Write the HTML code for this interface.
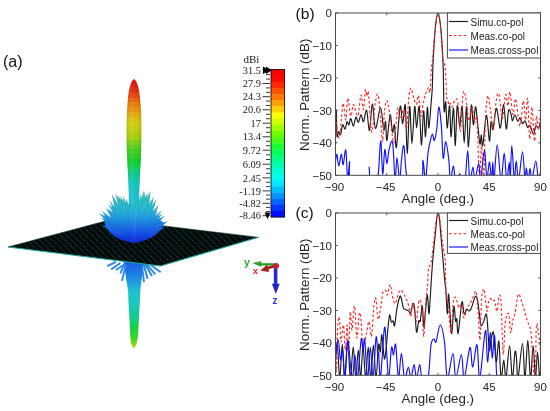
<!DOCTYPE html><html><head><meta charset="utf-8"><style>html,body{margin:0;padding:0;background:#fff;width:550px;height:411px;overflow:hidden}svg{display:block;filter:blur(0.3px)}</style></head><body>
<svg width="550" height="411" viewBox="0 0 550 411">
<rect width="550" height="411" fill="#fff"/>
<defs>
<linearGradient id="gBeam" x1="0" y1="79.0" x2="0" y2="222.0" gradientUnits="userSpaceOnUse"><stop offset="0.0000" stop-color="#da1510"/><stop offset="0.0329" stop-color="#da1510"/><stop offset="0.0329" stop-color="#dd1f10"/><stop offset="0.0657" stop-color="#dd1f10"/><stop offset="0.0657" stop-color="#e12c10"/><stop offset="0.0986" stop-color="#e12c10"/><stop offset="0.0986" stop-color="#e64710"/><stop offset="0.1315" stop-color="#e64710"/><stop offset="0.1315" stop-color="#e86410"/><stop offset="0.1643" stop-color="#e86410"/><stop offset="0.1643" stop-color="#e87f10"/><stop offset="0.1972" stop-color="#e87f10"/><stop offset="0.1972" stop-color="#e89510"/><stop offset="0.2301" stop-color="#e89510"/><stop offset="0.2301" stop-color="#e4ab10"/><stop offset="0.2629" stop-color="#e4ab10"/><stop offset="0.2629" stop-color="#ddc110"/><stop offset="0.2958" stop-color="#ddc110"/><stop offset="0.2958" stop-color="#d3d010"/><stop offset="0.3287" stop-color="#d3d010"/><stop offset="0.3287" stop-color="#c5d010"/><stop offset="0.3615" stop-color="#c5d010"/><stop offset="0.3615" stop-color="#b6d010"/><stop offset="0.3944" stop-color="#b6d010"/><stop offset="0.3944" stop-color="#a2d011"/><stop offset="0.4273" stop-color="#a2d011"/><stop offset="0.4273" stop-color="#7cd01a"/><stop offset="0.4601" stop-color="#7cd01a"/><stop offset="0.4601" stop-color="#5ad020"/><stop offset="0.4930" stop-color="#5ad020"/><stop offset="0.4930" stop-color="#41d020"/><stop offset="0.5259" stop-color="#41d020"/><stop offset="0.5259" stop-color="#29d024"/><stop offset="0.5587" stop-color="#29d024"/><stop offset="0.5587" stop-color="#13d02e"/><stop offset="0.5916" stop-color="#13d02e"/><stop offset="0.5916" stop-color="#10d050"/><stop offset="0.6245" stop-color="#10d050"/><stop offset="0.6245" stop-color="#10cf74"/><stop offset="0.6573" stop-color="#10cf74"/><stop offset="0.6573" stop-color="#10ca95"/><stop offset="0.6902" stop-color="#10ca95"/><stop offset="0.6902" stop-color="#10c8ac"/><stop offset="0.7231" stop-color="#10c8ac"/><stop offset="0.7231" stop-color="#10c8bf"/><stop offset="0.7559" stop-color="#10c8bf"/><stop offset="0.7559" stop-color="#19c4c9"/><stop offset="0.7888" stop-color="#19c4c9"/><stop offset="0.7888" stop-color="#20c0d0"/><stop offset="0.8217" stop-color="#20c0d0"/><stop offset="0.8217" stop-color="#20c0d0"/><stop offset="0.8545" stop-color="#20c0d0"/><stop offset="0.8545" stop-color="#20c0d0"/><stop offset="0.8874" stop-color="#20c0d0"/><stop offset="0.8874" stop-color="#20c0d0"/><stop offset="0.9203" stop-color="#20c0d0"/><stop offset="0.9203" stop-color="#20c0d0"/><stop offset="0.9531" stop-color="#20c0d0"/><stop offset="0.9531" stop-color="#20c0d0"/><stop offset="0.9860" stop-color="#20c0d0"/><stop offset="0.9860" stop-color="#20c0d0"/><stop offset="1.0000" stop-color="#20c0d0"/></linearGradient>
<linearGradient id="gShade" x1="0" y1="0" x2="1" y2="0">
<stop offset="0" stop-color="#000" stop-opacity="0.10"/><stop offset="0.35" stop-color="#fff" stop-opacity="0.06"/>
<stop offset="0.7" stop-color="#000" stop-opacity="0"/><stop offset="1" stop-color="#000" stop-opacity="0.12"/>
</linearGradient>
<linearGradient id="gSp" x1="0" y1="188" x2="0" y2="243" gradientUnits="userSpaceOnUse">
<stop offset="0" stop-color="#2cc4b4"/><stop offset="0.2" stop-color="#2cc4c0"/><stop offset="0.35" stop-color="#2abcd0"/>
<stop offset="0.47" stop-color="#26a8dc"/><stop offset="0.58" stop-color="#2090e0"/><stop offset="0.7" stop-color="#1a70e2"/>
<stop offset="0.82" stop-color="#1650e4"/><stop offset="0.92" stop-color="#1238e0"/><stop offset="1" stop-color="#1028d8"/>
</linearGradient>
<linearGradient id="gLow" x1="0" y1="262" x2="0" y2="349" gradientUnits="userSpaceOnUse">
<stop offset="0" stop-color="#1a5ce2"/><stop offset="0.16" stop-color="#2084e2"/><stop offset="0.25" stop-color="#20a2e0"/><stop offset="0.34" stop-color="#1ec2cc"/>
<stop offset="0.5" stop-color="#18c8b8"/><stop offset="0.62" stop-color="#14cc90"/><stop offset="0.75" stop-color="#18d048"/><stop offset="0.88" stop-color="#40d420"/>
<stop offset="1" stop-color="#b0e010"/>
</linearGradient>
<linearGradient id="gLsp" x1="0" y1="262" x2="0" y2="285" gradientUnits="userSpaceOnUse">
<stop offset="0" stop-color="#2a7ee6"/><stop offset="1" stop-color="#38aae8"/>
</linearGradient>
<pattern id="hatch" width="4.5" height="4.5" patternUnits="userSpaceOnUse" patternTransform="rotate(45)">
<rect width="4.5" height="4.5" fill="#030707"/><path d="M0,2.25H4.5" stroke="#115048" stroke-width="0.9" stroke-dasharray="1.2 0.75"/><path d="M2.25,0V4.5" stroke="#061a18" stroke-width="0.5"/>
</pattern>
</defs>
<path d="M123.5,261 L143.8,261 L143,270 L141.6,280 L141,284 L140.2,292 L139.9,300 L138.8,320 L138.1,335 L136.8,343 L135,347 L133.8,348.5 L132.6,347 L131,343 L130.2,335 L129.5,320 L128.4,300 L128.2,292 L127,284 L126.2,280 L125,270 Z" fill="url(#gLow)"/>
<path d="M116.0,261.8L107.3,266.2" stroke="#2686e6" stroke-width="1.9"/>
<path d="M120.4,262.9L111.1,269.5" stroke="#2686e6" stroke-width="1.9"/>
<path d="M124.5,263.5L120.4,273.3" stroke="#2686e6" stroke-width="1.9"/>
<path d="M126.0,264.0L122.0,280.9" stroke="#2686e6" stroke-width="1.9"/>
<path d="M148.7,263.5L160.7,272.2" stroke="#2686e6" stroke-width="1.9"/>
<path d="M146.5,264.0L155.3,274.4" stroke="#2686e6" stroke-width="1.9"/>
<path d="M143.5,264.0L147.6,278.7" stroke="#2686e6" stroke-width="1.9"/>
<path d="M125.0,264.0L116.0,270.0" stroke="#2686e6" stroke-width="1.9"/>
<path d="M145.0,264.0L152.0,276.0" stroke="#2686e6" stroke-width="1.9"/>
<path d="M142.0,266.0L144.0,282.0" stroke="#2686e6" stroke-width="1.9"/>
<path d="M8,247 L111,219.6 L258.4,237.3 L160.5,266 Z" fill="url(#hatch)"/>
<path d="M8,247 L160.5,266 L258.4,237.3" fill="none" stroke="#1aa8a0" stroke-width="1.1"/>
<path d="M8,247 L111,219.6 L258.4,237.3" fill="none" stroke="#0a3432" stroke-width="0.6"/>
<path d="M134,79 L132.4,80.5 L131.5,82.0 L130.7,84.0 L129.9,86.5 L129.2,89.6 L128.3,95.0 L127.8,100.0 L127.5,104.0 L127.0,111.0 L126.7,119.0 L126.5,133.0 L126.7,146.0 L127.3,162.0 L128.1,177.0 L128.8,193.0 L128.8,222.0 L139.2,222.0 L139.2,193.0 L139.9,177.0 L140.7,162.0 L141.3,146.0 L141.4,133.0 L141.3,119.0 L141.0,111.0 L140.6,104.0 L140.2,100.0 L139.7,95.0 L138.8,89.6 L138.1,86.5 L137.3,84.0 L136.5,82.0 L135.6,80.5 Z" fill="url(#gBeam)"/>
<path d="M134,79 L132.4,80.5 L131.5,82.0 L130.7,84.0 L129.9,86.5 L129.2,89.6 L128.3,95.0 L127.8,100.0 L127.5,104.0 L127.0,111.0 L126.7,119.0 L126.5,133.0 L126.7,146.0 L127.3,162.0 L128.1,177.0 L128.8,193.0 L128.8,222.0 L139.2,222.0 L139.2,193.0 L139.9,177.0 L140.7,162.0 L141.3,146.0 L141.4,133.0 L141.3,119.0 L141.0,111.0 L140.6,104.0 L140.2,100.0 L139.7,95.0 L138.8,89.6 L138.1,86.5 L137.3,84.0 L136.5,82.0 L135.6,80.5 Z" fill="url(#gShade)"/>
<path d="M104.5,223 C107,232 116,240.5 134,243 C152,240.5 161,232 164,223 C156,216 146,212 134,212 C122,212 112,216 104.5,223 Z" fill="url(#gSp)"/>
<path d="M130.1,233.6 L112.6,220.2 L99.4,213.2 L108.9,224.8 L125.4,239.3 Z" fill="url(#gSp)" stroke="#0a4a90" stroke-opacity="0.22" stroke-width="0.5"/>
<path d="M128.7,235.3 L111.5,221.6 L99.4,213.2 L110.0,223.4 L126.8,237.6 Z" fill="#ffffff" fill-opacity="0.05"/>
<path d="M131.0,234.6 L113.9,223.6 L101.3,218.0 L111.1,227.7 L127.6,239.6 Z" fill="url(#gSp)" stroke="#0a4a90" stroke-opacity="0.22" stroke-width="0.5"/>
<path d="M128.7,235.2 L113.8,220.0 L102.3,211.3 L110.2,223.4 L124.2,239.4 Z" fill="url(#gSp)" stroke="#0a4a90" stroke-opacity="0.22" stroke-width="0.5"/>
<path d="M127.4,236.5 L112.7,221.0 L102.3,211.3 L111.2,222.4 L125.6,238.1 Z" fill="#ffffff" fill-opacity="0.05"/>
<path d="M130.7,235.8 L115.4,226.8 L104.0,222.5 L112.7,231.0 L127.4,241.1 Z" fill="url(#gSp)" stroke="#0a4a90" stroke-opacity="0.22" stroke-width="0.5"/>
<path d="M129.7,237.4 L114.6,228.0 L104.0,222.5 L113.5,229.7 L128.4,239.5 Z" fill="#ffffff" fill-opacity="0.05"/>
<path d="M133.4,236.6 L118.2,218.8 L106.2,208.4 L113.7,222.4 L127.8,241.1 Z" fill="url(#gSp)" stroke="#0a4a90" stroke-opacity="0.22" stroke-width="0.5"/>
<path d="M131.7,237.9 L116.9,219.9 L106.2,208.4 L115.1,221.3 L129.5,239.7 Z" fill="#ffffff" fill-opacity="0.05"/>
<path d="M136.1,233.8 L120.8,215.3 L108.5,204.5 L115.9,219.0 L130.0,238.5 Z" fill="url(#gSp)" stroke="#0a4a90" stroke-opacity="0.22" stroke-width="0.5"/>
<path d="M134.3,235.2 L119.3,216.4 L108.5,204.5 L117.3,217.9 L131.8,237.1 Z" fill="#ffffff" fill-opacity="0.05"/>
<path d="M131.2,234.8 L119.7,213.9 L110.0,201.0 L115.0,216.4 L125.3,237.9 Z" fill="url(#gSp)" stroke="#0a4a90" stroke-opacity="0.22" stroke-width="0.5"/>
<path d="M132.2,236.4 L121.4,210.9 L112.0,194.7 L116.0,213.0 L125.4,239.1 Z" fill="url(#gSp)" stroke="#0a4a90" stroke-opacity="0.22" stroke-width="0.5"/>
<path d="M130.1,237.2 L119.8,211.5 L112.0,194.7 L117.6,212.3 L127.4,238.3 Z" fill="#ffffff" fill-opacity="0.05"/>
<path d="M134.4,235.1 L124.1,209.9 L115.4,193.8 L119.6,211.6 L128.6,237.3 Z" fill="url(#gSp)" stroke="#0a4a90" stroke-opacity="0.22" stroke-width="0.5"/>
<path d="M132.6,235.8 L122.8,210.4 L115.4,193.8 L120.9,211.1 L130.4,236.6 Z" fill="#ffffff" fill-opacity="0.05"/>
<path d="M135.8,236.1 L126.3,213.4 L118.0,199.0 L121.4,215.3 L129.6,238.5 Z" fill="url(#gSp)" stroke="#0a4a90" stroke-opacity="0.22" stroke-width="0.5"/>
<path d="M135.4,235.9 L127.9,211.8 L120.5,196.5 L122.1,213.5 L128.0,237.9 Z" fill="url(#gSp)" stroke="#0a4a90" stroke-opacity="0.22" stroke-width="0.5"/>
<path d="M134.3,237.1 L129.0,212.3 L123.2,196.2 L123.5,213.3 L127.4,238.4 Z" fill="url(#gSp)" stroke="#0a4a90" stroke-opacity="0.22" stroke-width="0.5"/>
<path d="M138.1,236.0 L132.4,213.5 L126.0,199.0 L126.2,214.8 L130.3,237.7 Z" fill="url(#gSp)" stroke="#0a4a90" stroke-opacity="0.22" stroke-width="0.5"/>
<path d="M135.7,236.5 L130.5,213.9 L126.0,199.0 L128.0,214.4 L132.6,237.2 Z" fill="#ffffff" fill-opacity="0.05"/>
<path d="M138.1,238.9 L142.9,210.0 L144.1,190.4 L138.0,209.1 L131.9,237.7 Z" fill="url(#gSp)" stroke="#0a4a90" stroke-opacity="0.22" stroke-width="0.5"/>
<path d="M136.3,238.5 L141.5,209.7 L144.1,190.4 L139.5,209.4 L133.8,238.0 Z" fill="#ffffff" fill-opacity="0.05"/>
<path d="M136.7,239.1 L144.0,213.1 L146.5,195.0 L138.3,211.3 L129.5,236.9 Z" fill="url(#gSp)" stroke="#0a4a90" stroke-opacity="0.22" stroke-width="0.5"/>
<path d="M142.3,237.9 L148.6,210.3 L150.4,191.3 L142.9,208.8 L135.1,236.0 Z" fill="url(#gSp)" stroke="#0a4a90" stroke-opacity="0.22" stroke-width="0.5"/>
<path d="M141.0,238.8 L149.8,214.4 L153.4,197.2 L144.1,212.1 L133.8,235.9 Z" fill="url(#gSp)" stroke="#0a4a90" stroke-opacity="0.22" stroke-width="0.5"/>
<path d="M139.9,239.4 L150.8,216.0 L156.3,199.6 L146.5,213.9 L134.4,236.6 Z" fill="url(#gSp)" stroke="#0a4a90" stroke-opacity="0.22" stroke-width="0.5"/>
<path d="M141.9,240.9 L153.2,220.1 L158.5,205.0 L147.9,217.0 L135.3,237.0 Z" fill="url(#gSp)" stroke="#0a4a90" stroke-opacity="0.22" stroke-width="0.5"/>
<path d="M139.9,239.8 L151.6,219.2 L158.5,205.0 L149.5,218.0 L137.2,238.2 Z" fill="#ffffff" fill-opacity="0.05"/>
<path d="M139.7,240.0 L153.8,223.3 L161.6,210.8 L150.1,220.1 L135.2,236.0 Z" fill="url(#gSp)" stroke="#0a4a90" stroke-opacity="0.22" stroke-width="0.5"/>
<path d="M138.4,238.8 L152.7,222.3 L161.6,210.8 L151.2,221.0 L136.6,237.2 Z" fill="#ffffff" fill-opacity="0.05"/>
<path d="M138.4,238.8 L154.8,226.2 L164.5,216.1 L151.9,222.2 L134.8,233.9 Z" fill="url(#gSp)" stroke="#0a4a90" stroke-opacity="0.22" stroke-width="0.5"/>
<path d="M138.3,239.8 L156.4,230.0 L167.5,221.5 L154.0,225.2 L135.3,233.7 Z" fill="url(#gSp)" stroke="#0a4a90" stroke-opacity="0.22" stroke-width="0.5"/>
<path d="M137.4,240.7 L154.7,233.8 L165.5,227.0 L152.8,228.5 L135.0,234.0 Z" fill="url(#gSp)" stroke="#0a4a90" stroke-opacity="0.22" stroke-width="0.5"/>
<path d="M132.5,235.6 L114.8,228.1 L102.0,225.0 L112.5,232.8 L129.7,241.6 Z" fill="url(#gSp)" stroke="#0a4a90" stroke-opacity="0.22" stroke-width="0.5"/>
<path d="M131.7,237.4 L114.1,229.5 L102.0,225.0 L113.2,231.4 L130.6,239.8 Z" fill="#ffffff" fill-opacity="0.05"/>
<path d="M133.3,236.8 L121.9,217.5 L112.0,206.0 L116.4,220.6 L126.4,240.6 Z" fill="url(#gSp)" stroke="#0a4a90" stroke-opacity="0.22" stroke-width="0.5"/>
<path d="M131.2,237.9 L120.3,218.5 L112.0,206.0 L118.0,219.7 L128.5,239.4 Z" fill="#ffffff" fill-opacity="0.05"/>
<path d="M132.4,235.5 L123.7,215.5 L116.0,203.0 L118.9,217.4 L126.4,237.9 Z" fill="url(#gSp)" stroke="#0a4a90" stroke-opacity="0.22" stroke-width="0.5"/>
<path d="M130.6,236.2 L122.3,216.1 L116.0,203.0 L120.4,216.9 L128.2,237.2 Z" fill="#ffffff" fill-opacity="0.05"/>
<path d="M135.4,235.8 L127.9,215.7 L121.0,203.0 L123.4,217.3 L129.7,237.8 Z" fill="url(#gSp)" stroke="#0a4a90" stroke-opacity="0.22" stroke-width="0.5"/>
<path d="M133.7,236.4 L126.5,216.2 L121.0,203.0 L124.7,216.8 L131.4,237.2 Z" fill="#ffffff" fill-opacity="0.05"/>
<path d="M138.9,238.9 L145.3,216.0 L147.0,200.0 L139.2,214.1 L131.4,236.5 Z" fill="url(#gSp)" stroke="#0a4a90" stroke-opacity="0.22" stroke-width="0.5"/>
<path d="M140.1,239.4 L148.6,218.7 L152.0,204.0 L143.2,216.3 L133.4,236.3 Z" fill="url(#gSp)" stroke="#0a4a90" stroke-opacity="0.22" stroke-width="0.5"/>
<path d="M138.1,238.5 L147.0,218.0 L152.0,204.0 L144.8,217.1 L135.5,237.3 Z" fill="#ffffff" fill-opacity="0.05"/>
<path d="M143.1,240.4 L152.8,223.6 L157.0,211.0 L147.5,220.3 L136.6,236.3 Z" fill="url(#gSp)" stroke="#0a4a90" stroke-opacity="0.22" stroke-width="0.5"/>
<path d="M132.2,235.3 L119.9,220.5 L110.0,212.0 L115.9,223.6 L127.3,239.1 Z" fill="url(#gSp)" stroke="#0a4a90" stroke-opacity="0.22" stroke-width="0.5"/>
<path d="M137.1,238.8 L151.6,228.0 L160.0,219.0 L148.6,223.8 L133.4,233.6 Z" fill="url(#gSp)" stroke="#0a4a90" stroke-opacity="0.22" stroke-width="0.5"/>
<path d="M136.0,237.3 L150.7,226.7 L160.0,219.0 L149.5,225.0 L134.5,235.1 Z" fill="#ffffff" fill-opacity="0.05"/>
<path d="M130.8,233.9 L116.7,222.3 L106.0,216.0 L113.5,225.9 L126.9,238.4 Z" fill="url(#gSp)" stroke="#0a4a90" stroke-opacity="0.22" stroke-width="0.5"/>
<path d="M129.6,235.3 L115.8,223.3 L106.0,216.0 L114.5,224.8 L128.0,237.1 Z" fill="#ffffff" fill-opacity="0.05"/>
<path d="M131.4,236.0 L122.1,213.4 L114.0,199.0 L117.6,215.1 L125.8,238.2 Z" fill="url(#gSp)" stroke="#0a4a90" stroke-opacity="0.22" stroke-width="0.5"/>
<path d="M135.4,235.4 L126.2,210.7 L118.0,195.0 L121.3,212.4 L129.2,237.5 Z" fill="url(#gSp)" stroke="#0a4a90" stroke-opacity="0.22" stroke-width="0.5"/>
<path d="M133.5,236.0 L124.7,211.2 L118.0,195.0 L122.7,211.9 L131.1,236.9 Z" fill="#ffffff" fill-opacity="0.05"/>
<path d="M135.6,235.6 L130.8,215.1 L125.0,202.0 L124.7,216.3 L128.1,237.1 Z" fill="url(#gSp)" stroke="#0a4a90" stroke-opacity="0.22" stroke-width="0.5"/>
<path d="M136.1,237.1 L133.1,217.7 L129.0,205.0 L128.2,218.3 L130.0,237.8 Z" fill="url(#gSp)" stroke="#0a4a90" stroke-opacity="0.22" stroke-width="0.5"/>
<path d="M134.3,237.3 L131.6,217.9 L129.0,205.0 L129.6,218.1 L131.8,237.6 Z" fill="#ffffff" fill-opacity="0.05"/>
<path d="M137.7,237.5 L140.6,217.7 L140.0,204.0 L134.6,216.6 L130.2,236.1 Z" fill="url(#gSp)" stroke="#0a4a90" stroke-opacity="0.22" stroke-width="0.5"/>
<path d="M135.5,237.1 L138.8,217.3 L140.0,204.0 L136.4,216.9 L132.4,236.5 Z" fill="#ffffff" fill-opacity="0.05"/>
<path d="M135.9,239.7 L141.5,215.0 L143.0,198.0 L136.1,213.6 L129.1,238.0 Z" fill="url(#gSp)" stroke="#0a4a90" stroke-opacity="0.22" stroke-width="0.5"/>
<path d="M133.9,239.2 L139.9,214.6 L143.0,198.0 L137.7,214.1 L131.1,238.5 Z" fill="#ffffff" fill-opacity="0.05"/>
<path d="M139.9,237.1 L146.7,212.9 L149.0,196.0 L141.3,211.2 L133.1,235.0 Z" fill="url(#gSp)" stroke="#0a4a90" stroke-opacity="0.22" stroke-width="0.5"/>
<path d="M142.3,239.4 L151.1,218.1 L155.0,203.0 L146.3,216.0 L136.4,236.8 Z" fill="url(#gSp)" stroke="#0a4a90" stroke-opacity="0.22" stroke-width="0.5"/>
<path d="M140.5,238.6 L149.7,217.5 L155.0,203.0 L147.8,216.6 L138.1,237.6 Z" fill="#ffffff" fill-opacity="0.05"/>
<path d="M138.6,240.9 L153.6,225.8 L162.0,214.0 L149.7,221.7 L133.8,235.7 Z" fill="url(#gSp)" stroke="#0a4a90" stroke-opacity="0.22" stroke-width="0.5"/>
<path d="M131.1,233.9 L115.9,220.8 L104.0,214.0 L111.7,225.3 L125.9,239.5 Z" fill="url(#gSp)" stroke="#0a4a90" stroke-opacity="0.22" stroke-width="0.5"/>
<path d="M135.2,236.0 L120.0,218.8 L108.0,209.0 L115.3,222.7 L129.3,240.8 Z" fill="url(#gSp)" stroke="#0a4a90" stroke-opacity="0.22" stroke-width="0.5"/>
<path d="M133.8,236.8 L128.0,213.8 L122.0,199.0 L122.8,215.0 L127.3,238.3 Z" fill="url(#gSp)" stroke="#0a4a90" stroke-opacity="0.22" stroke-width="0.5"/>
<path d="M131.9,237.3 L126.5,214.2 L122.0,199.0 L124.4,214.7 L129.3,237.8 Z" fill="#ffffff" fill-opacity="0.05"/>
<path d="M133.4,236.5 L130.8,215.7 L127.0,202.0 L125.7,216.2 L126.9,237.1 Z" fill="url(#gSp)" stroke="#0a4a90" stroke-opacity="0.22" stroke-width="0.5"/>
<path d="M141.7,237.6 L142.9,211.6 L141.0,194.0 L136.6,211.1 L133.9,237.1 Z" fill="url(#gSp)" stroke="#0a4a90" stroke-opacity="0.22" stroke-width="0.5"/>
<path d="M141.6,237.6 L144.9,210.4 L145.0,192.0 L139.8,209.7 L135.2,236.6 Z" fill="url(#gSp)" stroke="#0a4a90" stroke-opacity="0.22" stroke-width="0.5"/>
<path d="M139.7,237.3 L143.4,210.2 L145.0,192.0 L141.3,209.9 L137.1,236.9 Z" fill="#ffffff" fill-opacity="0.05"/>
<path d="M137.7,237.7 L145.3,211.3 L148.0,193.0 L139.7,209.6 L130.8,235.5 Z" fill="url(#gSp)" stroke="#0a4a90" stroke-opacity="0.22" stroke-width="0.5"/>
<path d="M142.3,238.7 L150.1,216.0 L153.0,200.0 L144.6,213.9 L135.5,236.2 Z" fill="url(#gSp)" stroke="#0a4a90" stroke-opacity="0.22" stroke-width="0.5"/>
<path d="M132.0,236.6 L122.1,212.3 L113.0,197.0 L116.2,214.5 L124.7,239.4 Z" fill="url(#gSp)" stroke="#0a4a90" stroke-opacity="0.22" stroke-width="0.5"/>
<path d="M135.9,236.3 L125.7,212.2 L117.0,197.0 L121.0,214.1 L130.0,238.6 Z" fill="url(#gSp)" stroke="#0a4a90" stroke-opacity="0.22" stroke-width="0.5"/>
<path d="M136.5,238.2 L134.8,217.0 L131.0,203.0 L128.4,217.3 L128.6,238.6 Z" fill="url(#gSp)" stroke="#0a4a90" stroke-opacity="0.22" stroke-width="0.5"/>
<path d="M134.1,238.3 L132.9,217.1 L131.0,203.0 L130.3,217.2 L131.0,238.5 Z" fill="#ffffff" fill-opacity="0.05"/>
<path d="M137.6,239.1 L138.7,215.8 L137.0,200.0 L132.8,215.3 L130.1,238.5 Z" fill="url(#gSp)" stroke="#0a4a90" stroke-opacity="0.22" stroke-width="0.5"/>
<path d="M135.3,239.0 L136.9,215.6 L137.0,200.0 L134.6,215.4 L132.4,238.7 Z" fill="#ffffff" fill-opacity="0.05"/>
<path d="M274.5,263.3 L261.5,263.3 L261,260.9 L252.5,263.1 L261,266.8 L261.5,265.5 L274.5,265.5 Z" fill="#22a022"/>
<path d="M274,263.3 L261.5,263.3 L261,260.9 L254,262.9 Z" fill="#60c860" fill-opacity="0.55"/>
<path d="M275.6,266.5 L275.6,284.5" stroke="#2a2ad0" stroke-width="3.6"/>
<path d="M271.9,283.8 L279.7,283.8 L275.8,294 Z" fill="#2222c8"/>
<path d="M275.5,265.8 L267.5,268" stroke="#a01c1c" stroke-width="2.8" stroke-linecap="round"/>
<path d="M266.8,265.3 L268.7,271.4 L261,270.4 Z" fill="#a41e1e" stroke="#a41e1e" stroke-width="0.8" stroke-linejoin="round"/>
<circle cx="276.1" cy="265.8" r="2.9" fill="#c42424"/>
<text font-family="Liberation Sans, Arial, sans-serif" font-size="10.5" font-weight="bold" fill="#2eaa2e" x="244" y="265.6">y</text>
<text font-family="Liberation Sans, Arial, sans-serif" font-size="9.5" font-weight="bold" fill="#f02020" x="252.8" y="274.2">x</text>
<text font-family="Liberation Sans, Arial, sans-serif" font-size="10" font-weight="bold" fill="#3030f0" x="272.5" y="303.6">z</text>
<text font-family="Liberation Sans, Arial, sans-serif" font-size="16" fill="#111" x="3" y="66.5">(a)</text>
<rect x="271.0" y="69.50" width="13.6" height="6.45" fill="#ff0000"/>
<rect x="271.0" y="75.65" width="13.6" height="6.45" fill="#ff0800"/>
<rect x="271.0" y="81.79" width="13.6" height="6.45" fill="#ff2800"/>
<rect x="271.0" y="87.94" width="13.6" height="6.45" fill="#ff5000"/>
<rect x="271.0" y="94.08" width="13.6" height="6.45" fill="#ff7800"/>
<rect x="271.0" y="100.23" width="13.6" height="6.45" fill="#ffa000"/>
<rect x="271.0" y="106.38" width="13.6" height="6.45" fill="#ffd000"/>
<rect x="271.0" y="112.52" width="13.6" height="6.45" fill="#f8ff00"/>
<rect x="271.0" y="118.67" width="13.6" height="6.45" fill="#d0ff00"/>
<rect x="271.0" y="124.81" width="13.6" height="6.45" fill="#a0ff00"/>
<rect x="271.0" y="130.96" width="13.6" height="6.45" fill="#70ff00"/>
<rect x="271.0" y="137.10" width="13.6" height="6.45" fill="#40ff10"/>
<rect x="271.0" y="143.25" width="13.6" height="6.45" fill="#18ff30"/>
<rect x="271.0" y="149.40" width="13.6" height="6.45" fill="#00ff58"/>
<rect x="271.0" y="155.54" width="13.6" height="6.45" fill="#00ff88"/>
<rect x="271.0" y="161.69" width="13.6" height="6.45" fill="#00ffb0"/>
<rect x="271.0" y="167.83" width="13.6" height="6.45" fill="#00ffd0"/>
<rect x="271.0" y="173.98" width="13.6" height="6.45" fill="#00fff0"/>
<rect x="271.0" y="180.12" width="13.6" height="6.45" fill="#00e8ff"/>
<rect x="271.0" y="186.27" width="13.6" height="6.45" fill="#00c0ff"/>
<rect x="271.0" y="192.42" width="13.6" height="6.45" fill="#0098ff"/>
<rect x="271.0" y="198.56" width="13.6" height="6.45" fill="#0068ff"/>
<rect x="271.0" y="204.71" width="13.6" height="6.45" fill="#0038ff"/>
<rect x="271.0" y="210.85" width="13.6" height="6.45" fill="#0010ff"/>
<rect x="271.0" y="69.5" width="13.6" height="147.5" fill="none" stroke="#111" stroke-width="0.9"/>
<g font-family="Liberation Serif, Times New Roman, serif" font-size="10.4" fill="#1a1a1a">
<text x="261" y="73.80" text-anchor="end">31.5</text>
<text x="261" y="87.10" text-anchor="end">27.9</text>
<text x="261" y="100.30" text-anchor="end">24.3</text>
<text x="261" y="113.40" text-anchor="end">20.6</text>
<text x="261" y="126.80" text-anchor="end">17</text>
<text x="261" y="140.40" text-anchor="end">13.4</text>
<text x="261" y="153.80" text-anchor="end">9.72</text>
<text x="261" y="167.80" text-anchor="end">6.09</text>
<text x="261" y="181.50" text-anchor="end">2.45</text>
<text x="261" y="194.50" text-anchor="end">-1.19</text>
<text x="261" y="206.90" text-anchor="end">-4.82</text>
<text x="261" y="219.30" text-anchor="end">-8.46</text>
</g>
<path d="M262.5,70.20H270M266,74.63H270M266,79.07H270M262.5,83.50H270M266,87.90H270M266,92.30H270M262.5,96.70H270M266,101.07H270M266,105.43H270M262.5,109.80H270M266,114.27H270M266,118.73H270M262.5,123.20H270M266,127.73H270M266,132.27H270M262.5,136.80H270M266,141.27H270M266,145.73H270M262.5,150.20H270M266,154.87H270M266,159.53H270M262.5,164.20H270M266,168.77H270M266,173.33H270M262.5,177.90H270M266,182.23H270M266,186.57H270M262.5,190.90H270M266,195.03H270M266,199.17H270M262.5,203.30H270M266,207.43H270M266,211.57H270M262.5,215.70H270" stroke="#222" stroke-width="0.9"/>
<text font-family="Liberation Serif, Times New Roman, serif" font-size="11" fill="#1a1a1a" x="243.5" y="62.6">dBi</text>
<path d="M263,66.5 L270,70.2 L263,73.9 Z M266,66.5 L272,70.2 L266,73.9Z" fill="#000"/>
<path d="M264.6,212.6 L270.4,212.6 L267.5,219.2 Z" fill="#000"/>
<clipPath id="clip1"><rect x="335.5" y="13.0" width="205.0" height="162.3"/></clipPath>
<g clip-path="url(#clip1)" fill="none" stroke-linejoin="round">
<path d="M335.50,118.00 C335.63,116.72 336.05,107.30 336.30,110.30 C336.55,113.30 336.58,132.45 337.00,136.00 C337.42,139.55 338.18,131.85 338.80,131.60 C339.42,131.35 340.07,135.63 340.70,134.50 C341.33,133.37 341.87,125.72 342.60,124.80 C343.33,123.88 344.37,129.52 345.10,129.00 C345.83,128.48 346.37,122.40 347.00,121.70 C347.63,121.00 348.27,125.33 348.90,124.80 C349.53,124.27 350.05,118.28 350.80,118.50 C351.55,118.72 352.55,126.32 353.40,126.10 C354.25,125.88 355.07,117.83 355.90,117.20 C356.73,116.57 357.55,122.72 358.40,122.30 C359.25,121.88 360.15,114.80 361.00,114.70 C361.85,114.60 362.57,122.43 363.50,121.70 C364.43,120.97 365.60,108.83 366.60,110.30 C367.60,111.77 368.55,131.55 369.50,130.50 C370.45,129.45 371.30,104.35 372.30,104.00 C373.30,103.65 374.12,127.78 375.50,128.40 C376.88,129.02 379.23,107.43 380.60,107.70 C381.97,107.97 382.87,127.67 383.70,130.00 C384.53,132.33 385.07,119.95 385.60,121.70 C386.13,123.45 386.15,141.67 386.90,140.50 C387.65,139.33 389.17,116.12 390.10,114.70 C391.03,113.28 391.77,130.28 392.50,132.00 C393.23,133.72 393.85,122.43 394.50,125.00 C395.15,127.57 395.45,150.48 396.40,147.40 C397.35,144.32 399.15,110.47 400.20,106.50 C401.25,102.53 401.85,123.82 402.70,123.60 C403.55,123.38 404.55,100.28 405.30,105.20 C406.05,110.12 406.47,152.88 407.20,153.10 C407.93,153.32 408.92,108.08 409.70,106.50 C410.48,104.92 411.07,143.60 411.90,143.60 C412.73,143.60 413.92,109.10 414.70,106.50 C415.48,103.90 415.85,128.00 416.60,128.00 C417.35,128.00 418.40,103.68 419.20,106.50 C420.00,109.32 420.67,144.17 421.40,144.90 C422.13,145.63 422.92,112.27 423.60,110.90 C424.28,109.53 424.87,137.33 425.50,136.70 C426.13,136.07 426.83,108.58 427.40,107.10 C427.97,105.62 428.27,128.65 428.90,127.80 C429.53,126.95 430.63,108.63 431.20,102.00 C431.77,95.37 432.03,93.60 432.30,88.00 C432.57,82.40 432.55,74.92 432.80,68.40 C433.05,61.88 433.40,55.38 433.80,48.90 C434.20,42.42 434.73,34.73 435.20,29.50 C435.67,24.27 436.13,20.25 436.60,17.50 C437.07,14.75 437.53,13.00 438.00,13.00 C438.47,13.00 438.92,14.75 439.40,17.50 C439.88,20.25 440.42,24.27 440.90,29.50 C441.38,34.73 441.92,42.42 442.30,48.90 C442.68,55.38 442.98,61.55 443.20,68.40 C443.42,75.25 443.50,83.90 443.60,90.00 C443.70,96.10 443.67,101.33 443.80,105.00 C443.93,108.67 444.07,112.50 444.40,112.00 C444.73,111.50 445.33,99.33 445.80,102.00 C446.27,104.67 446.57,127.37 447.20,128.00 C447.83,128.63 448.97,104.35 449.60,105.80 C450.23,107.25 450.35,136.27 451.00,136.70 C451.65,137.13 452.78,106.93 453.50,108.40 C454.22,109.87 454.68,145.93 455.30,145.50 C455.92,145.07 456.47,109.05 457.20,105.80 C457.93,102.55 458.87,125.88 459.70,126.00 C460.53,126.12 461.45,103.67 462.20,106.50 C462.95,109.33 463.47,143.00 464.20,143.00 C464.93,143.00 465.90,105.83 466.60,106.50 C467.30,107.17 467.62,147.20 468.40,147.00 C469.18,146.80 470.48,108.97 471.30,105.30 C472.12,101.63 472.60,124.75 473.30,125.00 C474.00,125.25 474.80,107.30 475.50,106.80 C476.20,106.30 476.77,115.80 477.50,122.00 C478.23,128.20 479.27,141.83 479.90,144.00 C480.53,146.17 480.82,134.75 481.30,135.00 C481.78,135.25 481.95,148.75 482.80,145.50 C483.65,142.25 485.30,116.25 486.40,115.50 C487.50,114.75 488.67,139.65 489.40,141.00 C490.13,142.35 490.42,126.77 490.80,123.60 C491.18,120.43 491.33,121.03 491.70,122.00 C492.07,122.97 492.28,131.57 493.00,129.40 C493.72,127.23 495.18,111.45 496.00,109.00 C496.82,106.55 497.17,111.53 497.90,114.70 C498.63,117.87 499.45,129.68 500.40,128.00 C501.35,126.32 502.62,104.43 503.60,104.60 C504.58,104.77 505.47,128.05 506.30,129.00 C507.13,129.95 507.78,112.68 508.60,110.30 C509.42,107.92 510.57,112.92 511.20,114.70 C511.83,116.48 511.77,121.00 512.40,121.00 C513.03,121.00 514.15,114.70 515.00,114.70 C515.85,114.70 516.67,120.47 517.50,121.00 C518.33,121.53 519.17,117.47 520.00,117.90 C520.83,118.33 521.65,123.08 522.50,123.60 C523.35,124.12 524.25,120.37 525.10,121.00 C525.95,121.63 526.77,126.65 527.60,127.40 C528.43,128.15 529.15,124.38 530.10,125.50 C531.05,126.62 532.35,134.00 533.30,134.10 C534.25,134.20 534.95,127.12 535.80,126.10 C536.65,125.08 537.62,128.42 538.40,128.00 C539.18,127.58 540.15,124.33 540.50,123.60" stroke="#1a1a1a" stroke-width="1.15"/>
<path d="M335.50,112.00 C335.72,114.33 336.15,121.67 336.80,126.00 C337.45,130.33 338.62,139.33 339.40,138.00 C340.18,136.67 340.87,123.78 341.50,118.00 C342.13,112.22 342.48,102.97 343.20,103.30 C343.92,103.63 345.05,120.83 345.80,120.00 C346.55,119.17 346.87,98.97 347.70,98.30 C348.53,97.63 349.85,114.95 350.80,116.00 C351.75,117.05 352.23,104.60 353.40,104.60 C354.57,104.60 356.53,117.58 357.80,116.00 C359.07,114.42 360.05,96.17 361.00,95.10 C361.95,94.03 362.77,110.45 363.50,109.60 C364.23,108.75 364.85,92.27 365.40,90.00 C365.95,87.73 366.28,95.47 366.80,96.00 C367.32,96.53 367.68,87.20 368.50,93.20 C369.32,99.20 370.62,130.03 371.70,132.00 C372.78,133.97 373.95,111.25 375.00,105.00 C376.05,98.75 377.08,92.33 378.00,94.50 C378.92,96.67 379.73,110.13 380.50,118.00 C381.27,125.87 381.95,142.70 382.60,141.70 C383.25,140.70 383.67,118.82 384.40,112.00 C385.13,105.18 386.07,100.13 387.00,100.80 C387.93,101.47 388.85,108.97 390.00,116.00 C391.15,123.03 392.62,144.27 393.90,143.00 C395.18,141.73 396.65,112.48 397.70,108.40 C398.75,104.32 399.15,118.30 400.20,118.50 C401.25,118.70 402.95,107.92 404.00,109.60 C405.05,111.28 405.73,130.20 406.50,128.60 C407.27,127.00 407.85,106.75 408.60,100.00 C409.35,93.25 410.07,88.10 411.00,88.10 C411.93,88.10 413.27,97.35 414.20,100.00 C415.13,102.65 415.88,104.72 416.60,104.00 C417.32,103.28 417.77,93.70 418.50,95.70 C419.23,97.70 420.22,114.78 421.00,116.00 C421.78,117.22 422.45,106.67 423.20,103.00 C423.95,99.33 424.80,96.17 425.50,94.00 C426.20,91.83 426.88,91.08 427.40,90.00 C427.92,88.92 428.17,87.17 428.60,87.50 C429.03,87.83 429.55,94.92 430.00,92.00 C430.45,89.08 430.87,75.57 431.30,70.00 C431.73,64.43 432.12,63.60 432.60,58.60 C433.08,53.60 433.62,46.27 434.20,40.00 C434.78,33.73 435.47,25.50 436.10,21.00 C436.73,16.50 437.37,13.00 438.00,13.00 C438.63,13.00 439.30,16.50 439.90,21.00 C440.50,25.50 441.10,33.73 441.60,40.00 C442.10,46.27 442.40,54.60 442.90,58.60 C443.40,62.60 444.15,61.77 444.60,64.00 C445.05,66.23 445.33,68.00 445.60,72.00 C445.87,76.00 446.07,83.83 446.20,88.00 C446.33,92.17 446.15,95.08 446.40,97.00 C446.65,98.92 447.27,98.17 447.70,99.50 C448.13,100.83 448.58,104.37 449.00,105.00 C449.42,105.63 449.78,102.97 450.20,103.30 C450.62,103.63 451.08,106.58 451.50,107.00 C451.92,107.42 452.12,106.97 452.70,105.80 C453.28,104.63 454.15,100.63 455.00,100.00 C455.85,99.37 456.92,96.73 457.80,102.00 C458.68,107.27 459.52,131.93 460.30,131.60 C461.08,131.27 461.87,106.72 462.50,100.00 C463.13,93.28 463.42,90.75 464.10,91.30 C464.78,91.85 465.80,98.40 466.60,103.30 C467.40,108.20 468.03,120.25 468.90,120.70 C469.77,121.15 470.82,105.78 471.80,106.00 C472.78,106.22 473.93,119.83 474.80,122.00 C475.67,124.17 476.23,109.67 477.00,119.00 C477.77,128.33 478.65,173.50 479.40,178.00 C480.15,182.50 480.78,146.00 481.50,146.00 C482.22,146.00 483.03,182.67 483.70,178.00 C484.37,173.33 484.80,131.70 485.50,118.00 C486.20,104.30 487.07,97.13 487.90,95.80 C488.73,94.47 489.62,104.30 490.50,110.00 C491.38,115.70 492.23,131.67 493.20,130.00 C494.17,128.33 495.33,105.92 496.30,100.00 C497.27,94.08 498.00,91.42 499.00,94.50 C500.00,97.58 501.22,118.50 502.30,118.50 C503.38,118.50 504.55,96.62 505.50,94.50 C506.45,92.38 507.27,106.23 508.00,105.80 C508.73,105.37 509.07,90.42 509.90,91.90 C510.73,93.38 512.05,113.53 513.00,114.70 C513.95,115.87 514.43,97.00 515.60,98.90 C516.77,100.80 518.73,125.78 520.00,126.10 C521.27,126.42 522.25,101.85 523.20,100.80 C524.15,99.75 524.97,120.22 525.70,119.80 C526.43,119.38 526.92,95.10 527.60,98.30 C528.28,101.50 529.07,137.53 529.80,139.00 C530.53,140.47 531.22,106.77 532.00,107.10 C532.78,107.43 533.75,139.52 534.50,141.00 C535.25,142.48 535.85,117.83 536.50,116.00 C537.15,114.17 537.73,130.50 538.40,130.00 C539.07,129.50 540.15,115.83 540.50,113.00" stroke="#ff2424" stroke-width="1.1" stroke-dasharray="2.7 2.1"/>
<path d="M335.50,160.70 C335.73,159.65 336.35,153.55 336.90,154.40 C337.45,155.25 338.07,165.80 338.80,165.80 C339.53,165.80 340.57,154.62 341.30,154.40 C342.03,154.18 342.45,165.23 343.20,164.50 C343.95,163.77 345.05,147.42 345.80,150.00 C346.55,152.58 347.07,178.12 347.70,180.00 C348.33,181.88 349.07,161.30 349.60,161.30 C350.13,161.30 347.83,176.88 350.90,180.00 C353.97,183.12 364.95,182.17 368.00,180.00 C371.05,177.83 368.80,167.00 369.20,167.00 C369.60,167.00 369.02,177.83 370.40,180.00 C371.78,182.17 375.80,186.48 377.50,180.00 C379.20,173.52 379.73,142.10 380.60,141.10 C381.47,140.10 382.00,172.58 382.70,174.00 C383.40,175.42 384.10,151.32 384.80,149.60 C385.50,147.88 386.20,163.63 386.90,163.70 C387.60,163.77 388.05,153.53 389.00,150.00 C389.95,146.47 391.58,137.50 392.60,142.50 C393.62,147.50 394.37,177.50 395.10,180.00 C395.83,182.50 396.25,157.50 397.00,157.50 C397.75,157.50 398.85,179.58 399.60,180.00 C400.35,180.42 400.77,165.63 401.50,160.00 C402.23,154.37 402.95,142.87 404.00,146.20 C405.05,149.53 404.92,174.37 407.80,180.00 C410.68,185.63 418.77,183.33 421.30,180.00 C423.83,176.67 422.30,160.00 423.00,160.00 C423.70,160.00 424.67,181.15 425.50,180.00 C426.33,178.85 427.17,159.77 428.00,153.10 C428.83,146.43 429.75,143.18 430.50,140.00 C431.25,136.82 431.85,133.92 432.50,134.00 C433.15,134.08 433.67,141.53 434.40,140.50 C435.13,139.47 436.17,133.37 436.90,127.80 C437.63,122.23 438.07,107.57 438.80,107.10 C439.53,106.63 440.57,116.48 441.30,125.00 C442.03,133.52 442.45,155.42 443.20,158.20 C443.95,160.98 444.85,141.28 445.80,141.70 C446.75,142.12 448.15,154.32 448.90,160.70 C449.65,167.08 449.55,179.15 450.30,180.00 C451.05,180.85 452.57,165.80 453.40,165.80 C454.23,165.80 454.45,177.63 455.30,180.00 C456.15,182.37 457.77,181.10 458.50,180.00 C459.23,178.90 459.28,173.40 459.70,173.40 C460.12,173.40 460.12,178.90 461.00,180.00 C461.88,181.10 463.88,184.90 465.00,180.00 C466.12,175.10 466.90,150.60 467.70,150.60 C468.50,150.60 468.92,177.27 469.80,180.00 C470.68,182.73 472.15,167.00 473.00,167.00 C473.85,167.00 473.95,180.63 474.90,180.00 C475.85,179.37 477.75,163.20 478.70,163.20 C479.65,163.20 479.65,182.10 480.60,180.00 C481.55,177.90 483.37,150.93 484.40,150.60 C485.43,150.27 485.95,176.10 486.80,178.00 C487.65,179.90 488.72,161.67 489.50,162.00 C490.28,162.33 490.95,180.00 491.50,180.00 C492.05,180.00 492.38,162.00 492.80,162.00 C493.22,162.00 493.27,182.85 494.00,180.00 C494.73,177.15 496.03,144.90 497.20,144.90 C498.37,144.90 499.83,178.63 501.00,180.00 C502.17,181.37 503.25,153.10 504.20,153.10 C505.15,153.10 505.85,178.52 506.70,180.00 C507.55,181.48 508.72,162.00 509.30,162.00 C509.88,162.00 509.78,182.75 510.20,180.00 C510.62,177.25 511.12,145.50 511.80,145.50 C512.48,145.50 513.57,177.47 514.30,180.00 C515.03,182.53 515.48,160.70 516.20,160.70 C516.92,160.70 517.55,181.48 518.60,180.00 C519.65,178.52 521.43,151.80 522.50,151.80 C523.57,151.80 524.37,177.35 525.00,180.00 C525.63,182.65 525.77,167.70 526.30,167.70 C526.83,167.70 527.57,179.90 528.20,180.00 C528.83,180.10 529.47,168.30 530.10,168.30 C530.73,168.30 531.05,181.27 532.00,180.00 C532.95,178.73 534.73,160.70 535.80,160.70 C536.87,160.70 537.62,178.12 538.40,180.00 C539.18,181.88 540.15,173.33 540.50,172.00" stroke="#1010ff" stroke-width="1.15"/>
</g>
<rect x="335.5" y="13.0" width="205.0" height="162.3" fill="none" stroke="#4a4a4a" stroke-width="1"/>
<path d="M335.50,175.30v-2.2M335.50,13.00v2.2M386.75,175.30v-2.2M386.75,13.00v2.2M438.00,175.30v-2.2M438.00,13.00v2.2M489.25,175.30v-2.2M489.25,13.00v2.2M540.50,175.30v-2.2M540.50,13.00v2.2M335.50,13.00h2.2M540.50,13.00h-2.2M335.50,45.46h2.2M540.50,45.46h-2.2M335.50,77.92h2.2M540.50,77.92h-2.2M335.50,110.38h2.2M540.50,110.38h-2.2M335.50,142.84h2.2M540.50,142.84h-2.2M335.50,175.30h2.2M540.50,175.30h-2.2" stroke="#4a4a4a" stroke-width="1" fill="none"/>
<g font-family="Liberation Sans, Arial, sans-serif" font-size="11.5" fill="#262626">
<text x="332" y="17.40" text-anchor="end">0</text>
<text x="332" y="49.86" text-anchor="end">−10</text>
<text x="332" y="82.32" text-anchor="end">−20</text>
<text x="332" y="114.78" text-anchor="end">−30</text>
<text x="332" y="147.24" text-anchor="end">−40</text>
<text x="332" y="179.70" text-anchor="end">−50</text>
<text x="334.50" y="191.10" text-anchor="middle">−90</text>
<text x="385.75" y="191.10" text-anchor="middle">−45</text>
<text x="438.00" y="191.10" text-anchor="middle">0</text>
<text x="489.25" y="191.10" text-anchor="middle">45</text>
<text x="540.50" y="191.10" text-anchor="middle">90</text>
</g>
<text font-family="Liberation Sans, Arial, sans-serif" font-size="13.3" fill="#262626" text-anchor="middle" x="437.8" y="202.80">Angle (deg.)</text>
<text font-family="Liberation Sans, Arial, sans-serif" font-size="13.4" fill="#262626" text-anchor="middle" transform="translate(309.3,94.80) rotate(-90)">Norm. Pattern (dB)</text>
<text font-family="Liberation Sans, Arial, sans-serif" font-size="15.5" fill="#111" x="295.6" y="18.70">(b)</text>
<rect x="447.4" y="13.0" width="93.1" height="45.0" fill="#fff" stroke="#4a4a4a" stroke-width="1"/>
<path d="M449,21.50H468" stroke="#1a1a1a" stroke-width="1.15"/>
<text font-family="Liberation Sans, Arial, sans-serif" font-size="10" fill="#1a1a1a" x="470.6" y="25.50">Simu.co-pol</text>
<path d="M449,35.50H468" stroke="#ff2424" stroke-width="1.1" stroke-dasharray="2.7 2.1"/>
<text font-family="Liberation Sans, Arial, sans-serif" font-size="10" fill="#1a1a1a" x="470.6" y="39.50">Meas.co-pol</text>
<path d="M449,50.00H468" stroke="#1010ff" stroke-width="1.15"/>
<text font-family="Liberation Sans, Arial, sans-serif" font-size="10" fill="#1a1a1a" x="470.6" y="54.00">Meas.cross-pol</text>
<clipPath id="clip2"><rect x="335.5" y="213.0" width="205.0" height="162.3"/></clipPath>
<g clip-path="url(#clip2)" fill="none" stroke-linejoin="round">
<path d="M335.50,350.00 C335.83,349.33 336.78,341.33 337.50,346.00 C338.22,350.67 339.00,378.27 339.80,378.00 C340.60,377.73 341.47,344.40 342.30,344.40 C343.13,344.40 343.92,378.70 344.80,378.00 C345.68,377.30 346.67,340.20 347.60,340.20 C348.53,340.20 349.47,376.87 350.40,378.00 C351.33,379.13 352.30,347.00 353.20,347.00 C354.10,347.00 354.95,377.50 355.80,378.00 C356.65,378.50 357.48,350.00 358.30,350.00 C359.12,350.00 359.92,378.67 360.70,378.00 C361.48,377.33 362.18,346.00 363.00,346.00 C363.82,346.00 364.73,377.83 365.60,378.00 C366.47,378.17 367.33,347.00 368.20,347.00 C369.07,347.00 369.93,378.33 370.80,378.00 C371.67,377.67 372.53,345.00 373.40,345.00 C374.27,345.00 375.13,378.05 376.00,378.00 C376.87,377.95 377.87,349.03 378.60,344.70 C379.33,340.37 379.87,353.67 380.40,352.00 C380.93,350.33 381.13,333.55 381.80,334.70 C382.47,335.85 383.62,357.18 384.40,358.90 C385.18,360.62 386.02,348.98 386.50,345.00 C386.98,341.02 386.80,339.95 387.30,335.00 C387.80,330.05 388.83,317.47 389.50,315.30 C390.17,313.13 390.70,321.05 391.30,322.00 C391.90,322.95 392.55,320.42 393.10,321.00 C393.65,321.58 393.98,327.43 394.60,325.50 C395.22,323.57 395.95,314.15 396.80,309.40 C397.65,304.65 398.97,298.90 399.70,297.00 C400.43,295.10 400.58,296.17 401.20,298.00 C401.82,299.83 402.67,306.10 403.40,308.00 C404.13,309.90 404.75,308.92 405.60,309.40 C406.45,309.88 407.65,310.30 408.50,310.90 C409.35,311.50 409.98,314.22 410.70,313.00 C411.42,311.78 412.15,304.43 412.80,303.60 C413.45,302.77 413.98,303.27 414.60,308.00 C415.22,312.73 415.82,329.83 416.50,332.00 C417.18,334.17 418.07,322.83 418.70,321.00 C419.33,319.17 419.70,323.53 420.30,321.00 C420.90,318.47 421.72,304.80 422.30,305.80 C422.88,306.80 423.28,325.97 423.80,327.00 C424.32,328.03 424.80,317.37 425.40,312.00 C426.00,306.63 426.82,294.50 427.40,294.80 C427.98,295.10 428.45,312.93 428.90,313.80 C429.35,314.67 429.65,306.35 430.10,300.00 C430.55,293.65 431.07,283.40 431.60,275.70 C432.13,268.00 432.65,261.10 433.30,253.80 C433.95,246.50 434.88,238.03 435.50,231.90 C436.12,225.77 436.57,220.15 437.00,217.00 C437.43,213.85 437.72,213.00 438.10,213.00 C438.48,213.00 438.88,213.85 439.30,217.00 C439.72,220.15 440.07,225.77 440.60,231.90 C441.13,238.03 441.88,246.50 442.50,253.80 C443.12,261.10 443.73,269.50 444.30,275.70 C444.87,281.90 445.40,284.67 445.90,291.00 C446.40,297.33 446.83,313.15 447.30,313.70 C447.77,314.25 448.00,291.02 448.70,294.30 C449.40,297.58 450.63,331.37 451.50,333.40 C452.37,335.43 453.23,308.57 453.90,306.50 C454.57,304.43 455.02,318.92 455.50,321.00 C455.98,323.08 456.35,317.00 456.80,319.00 C457.25,321.00 457.35,335.82 458.20,333.00 C459.05,330.18 460.92,305.30 461.90,302.10 C462.88,298.90 463.25,312.58 464.10,313.80 C464.95,315.02 466.15,309.87 467.00,309.40 C467.85,308.93 468.47,311.23 469.20,311.00 C469.93,310.77 470.43,310.33 471.40,308.00 C472.37,305.67 474.03,298.58 475.00,297.00 C475.97,295.42 476.47,295.70 477.20,298.50 C477.93,301.30 478.78,309.30 479.40,313.80 C480.02,318.30 480.22,324.13 480.90,325.50 C481.58,326.87 482.53,323.70 483.50,322.00 C484.47,320.30 485.73,310.63 486.70,315.30 C487.67,319.97 488.58,345.88 489.30,350.00 C490.02,354.12 490.28,342.87 491.00,340.00 C491.72,337.13 492.73,329.13 493.60,332.80 C494.47,336.47 495.32,360.57 496.20,362.00 C497.08,363.43 498.10,338.73 498.90,341.40 C499.70,344.07 500.18,374.90 501.00,378.00 C501.82,381.10 502.97,360.00 503.80,360.00 C504.63,360.00 505.03,380.38 506.00,378.00 C506.97,375.62 508.55,345.70 509.60,345.70 C510.65,345.70 511.40,376.93 512.30,378.00 C513.20,379.07 514.30,355.43 515.00,352.10 C515.70,348.77 516.00,353.68 516.50,358.00 C517.00,362.32 517.00,380.42 518.00,378.00 C519.00,375.58 521.33,343.50 522.50,343.50 C523.67,343.50 524.12,378.53 525.00,378.00 C525.88,377.47 526.88,340.30 527.80,340.30 C528.72,340.30 529.60,377.10 530.50,378.00 C531.40,378.90 532.38,345.70 533.20,345.70 C534.02,345.70 534.68,376.93 535.40,378.00 C536.12,379.07 536.80,352.10 537.50,352.10 C538.20,352.10 539.10,374.68 539.60,378.00 C540.10,381.32 540.35,373.00 540.50,372.00" stroke="#1a1a1a" stroke-width="1.15"/>
<path d="M335.50,322.00 C335.63,330.33 335.95,370.67 336.30,372.00 C336.65,373.33 337.18,339.17 337.60,330.00 C338.02,320.83 338.40,317.83 338.80,317.00 C339.20,316.17 339.62,320.83 340.00,325.00 C340.38,329.17 340.52,342.00 341.10,342.00 C341.68,342.00 342.80,323.67 343.50,325.00 C344.20,326.33 344.68,350.00 345.30,350.00 C345.92,350.00 346.65,324.50 347.20,325.00 C347.75,325.50 348.10,355.17 348.60,353.00 C349.10,350.83 349.63,315.83 350.20,312.00 C350.77,308.17 351.28,331.03 352.00,330.00 C352.72,328.97 353.68,304.47 354.50,305.80 C355.32,307.13 356.10,336.78 356.90,338.00 C357.70,339.22 358.58,315.77 359.30,313.10 C360.02,310.43 360.58,316.18 361.20,322.00 C361.82,327.82 362.10,346.23 363.00,348.00 C363.90,349.77 365.60,337.00 366.60,332.60 C367.60,328.20 368.18,321.00 369.00,321.60 C369.82,322.20 370.68,338.83 371.50,336.20 C372.32,333.57 373.18,312.08 373.90,305.80 C374.62,299.52 375.08,296.27 375.80,298.50 C376.52,300.73 377.40,317.58 378.20,319.20 C379.00,320.82 379.80,312.67 380.60,308.20 C381.40,303.73 382.13,295.35 383.00,292.40 C383.87,289.45 385.08,290.07 385.80,290.50 C386.52,290.93 386.57,295.98 387.30,295.00 C388.03,294.02 389.35,284.38 390.20,284.60 C391.05,284.82 391.55,293.13 392.40,296.30 C393.25,299.47 394.20,304.33 395.30,303.60 C396.40,302.87 398.02,294.10 399.00,291.90 C399.98,289.70 400.35,289.92 401.20,290.40 C402.05,290.88 403.13,293.08 404.10,294.80 C405.07,296.52 406.15,298.50 407.00,300.70 C407.85,302.90 408.58,305.33 409.20,308.00 C409.82,310.67 410.10,317.37 410.70,316.70 C411.30,316.03 412.08,304.23 412.80,304.00 C413.52,303.77 414.38,312.47 415.00,315.30 C415.62,318.13 415.88,323.20 416.50,321.00 C417.12,318.80 418.03,305.43 418.70,302.10 C419.37,298.77 419.90,299.53 420.50,301.00 C421.10,302.47 421.75,305.07 422.30,310.90 C422.85,316.73 423.18,337.95 423.80,336.00 C424.42,334.05 425.37,307.70 426.00,299.20 C426.63,290.70 427.18,290.03 427.60,285.00 C428.02,279.97 427.92,272.75 428.50,269.00 C429.08,265.25 430.25,266.83 431.10,262.50 C431.95,258.17 432.78,249.75 433.60,243.00 C434.42,236.25 435.25,227.00 436.00,222.00 C436.75,217.00 437.38,212.83 438.10,213.00 C438.82,213.17 439.55,218.00 440.30,223.00 C441.05,228.00 441.75,236.42 442.60,243.00 C443.45,249.58 444.85,254.67 445.40,262.50 C445.95,270.33 445.38,282.08 445.90,290.00 C446.42,297.92 447.65,302.83 448.50,310.00 C449.35,317.17 450.23,334.07 451.00,333.00 C451.77,331.93 452.38,309.60 453.10,303.60 C453.82,297.60 454.57,297.10 455.30,297.00 C456.03,296.90 456.88,301.17 457.50,303.00 C458.12,304.83 458.33,307.67 459.00,308.00 C459.67,308.33 460.65,303.33 461.50,305.00 C462.35,306.67 463.27,317.50 464.10,318.00 C464.93,318.50 465.65,310.17 466.50,308.00 C467.35,305.83 468.27,306.47 469.20,305.00 C470.13,303.53 471.13,301.37 472.10,299.20 C473.07,297.03 474.27,292.87 475.00,292.00 C475.73,291.13 475.95,290.17 476.50,294.00 C477.05,297.83 477.72,307.33 478.30,315.00 C478.88,322.67 479.45,342.63 480.00,340.00 C480.55,337.37 480.97,307.70 481.60,299.20 C482.23,290.70 483.23,289.47 483.80,289.00 C484.37,288.53 484.45,292.67 485.00,296.40 C485.55,300.13 486.52,310.47 487.10,311.40 C487.68,312.33 487.95,304.13 488.50,302.00 C489.05,299.87 489.73,298.77 490.40,298.60 C491.07,298.43 491.80,300.65 492.50,301.00 C493.20,301.35 493.88,298.97 494.60,300.70 C495.32,302.43 496.08,311.93 496.80,311.40 C497.52,310.87 498.20,299.23 498.90,297.50 C499.60,295.77 500.28,291.55 501.00,301.00 C501.72,310.45 502.48,350.68 503.20,354.20 C503.92,357.72 504.40,328.87 505.30,322.10 C506.20,315.33 507.70,311.82 508.60,313.60 C509.50,315.38 510.00,331.73 510.70,332.80 C511.40,333.87 512.08,323.20 512.80,320.00 C513.52,316.80 514.10,317.88 515.00,313.60 C515.90,309.32 517.12,296.40 518.20,294.30 C519.28,292.20 520.43,298.15 521.50,301.00 C522.57,303.85 523.55,307.90 524.60,311.40 C525.65,314.90 526.73,318.43 527.80,322.00 C528.87,325.57 530.10,325.28 531.00,332.80 C531.90,340.32 532.48,359.57 533.20,367.10 C533.92,374.63 534.77,384.78 535.30,378.00 C535.83,371.22 535.87,333.90 536.40,326.40 C536.93,318.90 537.78,328.37 538.50,333.00 C539.22,337.63 540.33,350.67 540.70,354.20" stroke="#ff2424" stroke-width="1.1" stroke-dasharray="2.7 2.1"/>
<path d="M335.50,360.00 C335.93,356.53 337.27,339.20 338.10,339.20 C338.93,339.20 339.75,358.23 340.50,360.00 C341.25,361.77 341.88,346.80 342.60,349.80 C343.32,352.80 343.95,379.47 344.80,378.00 C345.65,376.53 346.80,343.67 347.70,341.00 C348.60,338.33 349.40,355.83 350.20,362.00 C351.00,368.17 351.70,379.17 352.50,378.00 C353.30,376.83 354.17,355.00 355.00,355.00 C355.83,355.00 356.47,380.63 357.50,378.00 C358.53,375.37 360.28,343.87 361.20,339.20 C362.12,334.53 362.42,349.92 363.00,350.00 C363.58,350.08 363.95,335.03 364.70,339.70 C365.45,344.37 366.55,376.73 367.50,378.00 C368.45,379.27 369.48,347.30 370.40,347.30 C371.32,347.30 372.05,379.68 373.00,378.00 C373.95,376.32 375.30,341.03 376.10,337.20 C376.90,333.37 377.37,352.27 377.80,355.00 C378.23,357.73 378.25,349.77 378.70,353.60 C379.15,357.43 379.55,382.30 380.50,378.00 C381.45,373.70 383.40,332.47 384.40,327.80 C385.40,323.13 385.78,341.63 386.50,350.00 C387.22,358.37 387.87,378.40 388.70,378.00 C389.53,377.60 390.70,351.43 391.50,347.60 C392.30,343.77 392.80,355.48 393.50,355.00 C394.20,354.52 394.87,340.87 395.70,344.70 C396.53,348.53 397.55,376.58 398.50,378.00 C399.45,379.42 400.40,353.20 401.40,353.20 C402.40,353.20 403.33,375.65 404.50,378.00 C405.67,380.35 407.32,367.30 408.40,367.30 C409.48,367.30 410.05,378.47 411.00,378.00 C411.95,377.53 413.18,364.50 414.10,364.50 C415.02,364.50 415.57,378.00 416.50,378.00 C417.43,378.00 418.78,364.50 419.70,364.50 C420.62,364.50 420.62,375.75 422.00,378.00 C423.38,380.25 426.50,383.50 428.00,378.00 C429.50,372.50 430.02,351.50 431.00,345.00 C431.98,338.50 433.07,339.52 433.90,339.00 C434.73,338.48 434.95,344.23 436.00,341.90 C437.05,339.57 438.78,325.00 440.20,325.00 C441.62,325.00 443.32,333.07 444.50,341.90 C445.68,350.73 445.88,376.12 447.30,378.00 C448.72,379.88 451.58,353.20 453.00,353.20 C454.42,353.20 454.40,377.77 455.80,378.00 C457.20,378.23 460.00,354.60 461.40,354.60 C462.80,354.60 462.78,379.17 464.20,378.00 C465.62,376.83 468.48,349.43 469.90,347.60 C471.32,345.77 471.52,367.48 472.70,367.00 C473.88,366.52 475.82,342.87 477.00,344.70 C478.18,346.53 478.40,380.35 479.80,378.00 C481.20,375.65 484.12,333.27 485.40,330.60 C486.68,327.93 486.67,361.63 487.50,362.00 C488.33,362.37 489.60,333.47 490.40,332.80 C491.20,332.13 491.60,357.47 492.30,358.00 C493.00,358.53 493.85,332.67 494.60,336.00 C495.35,339.33 496.23,371.00 496.80,378.00 C497.37,385.00 497.80,378.00 498.00,378.00" stroke="#1010ff" stroke-width="1.15"/>
</g>
<rect x="335.5" y="213.0" width="205.0" height="162.3" fill="none" stroke="#4a4a4a" stroke-width="1"/>
<path d="M335.50,375.30v-2.2M335.50,213.00v2.2M386.75,375.30v-2.2M386.75,213.00v2.2M438.00,375.30v-2.2M438.00,213.00v2.2M489.25,375.30v-2.2M489.25,213.00v2.2M540.50,375.30v-2.2M540.50,213.00v2.2M335.50,213.00h2.2M540.50,213.00h-2.2M335.50,245.46h2.2M540.50,245.46h-2.2M335.50,277.92h2.2M540.50,277.92h-2.2M335.50,310.38h2.2M540.50,310.38h-2.2M335.50,342.84h2.2M540.50,342.84h-2.2M335.50,375.30h2.2M540.50,375.30h-2.2" stroke="#4a4a4a" stroke-width="1" fill="none"/>
<g font-family="Liberation Sans, Arial, sans-serif" font-size="11.5" fill="#262626">
<text x="332" y="217.40" text-anchor="end">0</text>
<text x="332" y="249.86" text-anchor="end">−10</text>
<text x="332" y="282.32" text-anchor="end">−20</text>
<text x="332" y="314.78" text-anchor="end">−30</text>
<text x="332" y="347.24" text-anchor="end">−40</text>
<text x="332" y="379.70" text-anchor="end">−50</text>
<text x="334.50" y="391.10" text-anchor="middle">−90</text>
<text x="385.75" y="391.10" text-anchor="middle">−45</text>
<text x="438.00" y="391.10" text-anchor="middle">0</text>
<text x="489.25" y="391.10" text-anchor="middle">45</text>
<text x="540.50" y="391.10" text-anchor="middle">90</text>
</g>
<text font-family="Liberation Sans, Arial, sans-serif" font-size="13.3" fill="#262626" text-anchor="middle" x="437.8" y="402.80">Angle (deg.)</text>
<text font-family="Liberation Sans, Arial, sans-serif" font-size="13.4" fill="#262626" text-anchor="middle" transform="translate(309.3,294.80) rotate(-90)">Norm. Pattern (dB)</text>
<text font-family="Liberation Sans, Arial, sans-serif" font-size="15.5" fill="#111" x="295.6" y="217.60">(c)</text>
<rect x="447.4" y="213.0" width="93.1" height="40.4" fill="#fff" stroke="#4a4a4a" stroke-width="1"/>
<path d="M449,220.50H468" stroke="#1a1a1a" stroke-width="1.15"/>
<text font-family="Liberation Sans, Arial, sans-serif" font-size="10" fill="#1a1a1a" x="470.6" y="224.50">Simu.co-pol</text>
<path d="M449,233.80H468" stroke="#ff2424" stroke-width="1.1" stroke-dasharray="2.7 2.1"/>
<text font-family="Liberation Sans, Arial, sans-serif" font-size="10" fill="#1a1a1a" x="470.6" y="237.80">Meas.co-pol</text>
<path d="M449,247.00H468" stroke="#1010ff" stroke-width="1.15"/>
<text font-family="Liberation Sans, Arial, sans-serif" font-size="10" fill="#1a1a1a" x="470.6" y="251.00">Meas.cross-pol</text>
</svg></body></html>
